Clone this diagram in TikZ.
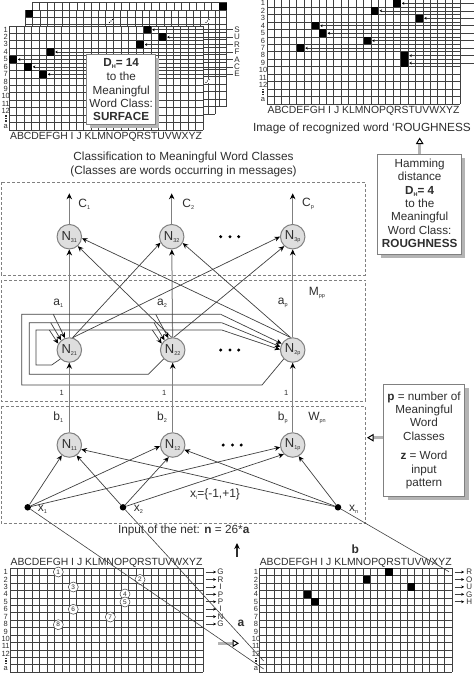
\documentclass[tikz,border=0pt]{standalone}
\usepackage{fontspec}
\setmainfont{Liberation Sans}
\usetikzlibrary{arrows.meta}
\definecolor{inkgray}{HTML}{2E2E2E}
\definecolor{linegray}{HTML}{404040}
\definecolor{stemgray}{HTML}{808080}
\definecolor{nodegray}{HTML}{DEDEDE}
\definecolor{shadegray}{HTML}{B4B4B4}
\newcommand{\lowix}[1]{\raisebox{-2pt}{\fontsize{5.5}{6}\selectfont #1}}
\newcommand{\wordletters}{ABCDEFGH I J KLMNOPQRSTUVWXYZ}
% grid of 26 columns and 14 rows: #1 shift, #2 cell width, #3 cell height
\newcommand{\wordgrid}[3]{
  \begin{scope}[shift={#1}, x=#2pt, y=-#3pt]
    \fill[white] (0,0) rectangle (26,14);
    \foreach \i in {0,...,26}
      \draw[gridline] (\i,0) -- (\i,14);
    \foreach \i in {0,...,14}
      \draw[gridline] (0,\i) -- (26,\i);
  \end{scope}
}
% row numbers left of a grid: #1 x, #2 y of first row
\newcommand{\rownumbers}[2]{
  \foreach \i in {1,...,12}
    \node[rowtext] at (#1, {#2+(\i-1)*7.43}) {\i};
  \fill[inkgray] (#1-0.9, #2+85.5) rectangle (#1+0.9, #2+87);
  \fill[inkgray] (#1-0.9, #2+88) rectangle (#1+0.9, #2+89.5);
  \fill[inkgray] (#1-0.9, #2+90.5) rectangle (#1+0.9, #2+92);
  \node[rowtext] at (#1, #2+96.6) {a};
}
\tikzset{
  gridline/.style={draw=linegray, line width=0.85pt},
  rowtext/.style={font=\fontsize{7.5}{7.5}\selectfont, text=inkgray, inner sep=0pt},
  sideletter/.style={font=\fontsize{8}{8}\selectfont, text=inkgray, inner sep=0pt},
  lettertext/.style={font=\fontsize{10.4}{11}\selectfont, text=inkgray, inner sep=0pt},
  boxtext/.style={font=\fontsize{11.7}{13.4}\selectfont, text=inkgray, align=center, inner sep=0pt},
  labeltext/.style={font=\fontsize{12}{12}\selectfont, text=inkgray, inner sep=0pt},
  linetext/.style={font=\fontsize{11.8}{14}\selectfont, text=inkgray, align=center, inner sep=0pt},
  neuron/.style={circle, draw=stemgray, fill=nodegray, line width=1pt, minimum size=24.5pt, inner sep=0pt,
    font=\fontsize{13}{13}\selectfont, text=inkgray},
  input/.style={circle, fill=black, minimum size=6.5pt, inner sep=0pt},
  wire/.style={draw=linegray, line width=0.7pt, -{Stealth[length=5.5pt,width=5pt,color=black]}},
  stem/.style={draw=stemgray, line width=1pt, -{Stealth[length=6pt,width=5.5pt,color=black]}},
  loopline/.style={draw=linegray, line width=0.7pt},
  rowarrow/.style={draw=linegray, line width=0.6pt, {Stealth[length=2.5pt,width=2.8pt,color=black]}-},
  outarrow/.style={draw=linegray, line width=0.6pt, -{Stealth[length=3pt,width=2.8pt,color=black]}},
  dashframe/.style={draw=stemgray, densely dashed, line width=0.8pt},
  hollow/.style={draw=shadegray, line width=2.6pt, -{Triangle[open, length=6.5pt, width=7.5pt, color=black, fill=white, line width=1pt]}},
  numdot/.style={circle, draw=linegray, fill=white, line width=0.5pt, minimum size=10pt, inner sep=0pt,
    font=\fontsize{6.5}{6.5}\selectfont, text=inkgray},
  smalldot/.style={circle, fill=black, minimum size=3.4pt, inner sep=0pt},
}
\begin{document}
\begin{tikzpicture}[x=1pt, y=-1pt]
\useasboundingbox (0,0) rectangle (474,673);

% Stacked word images, top left
\wordgrid{(32,2.5)}{7.49}{7.43}
\fill[black] (219.2,2.5) rectangle +(7.5,7.4);
\wordgrid{(25.5,10)}{7.3}{7.43}
\fill[black] (25.5,10) rectangle +(7.4,7.4);
\foreach \p in {(111,21),(207.5,21),(207.5,81)}
  \fill[white] \p circle (2.4pt);
\foreach \p in {(109.5,22.5),(111,21),(112.5,19.5),(206,22.5),(207.5,21),(209,19.5),(206,82.5),(207.5,81),(209,79.5)}
  \fill[black] \p circle (0.65pt);
\wordgrid{(9.3,26)}{7.46}{7.43}
\begin{scope}[shift={(9.3,26)}, x=7.46pt, y=-7.43pt]
  \foreach \c/\r in {18/0,20/1,17/2,5/3,0/4,2/5,4/6} {
    \fill[black] (\c,\r) rectangle +(1,1);
    \draw[rowarrow] (\c+1.15,\r+0.5) -- (30,\r+0.5);
  }
\end{scope}
\rownumbers{5.7}{29.5}
\node[lettertext] (lettersSurface) at (106,137) {\wordletters};
\foreach \t [count=\i] in {S,U,R,F,A,C,E}
  \node[sideletter] (surface\i) at (237,{22.1+\i*7.43}) {\t};

% Box of the class SURFACE
\fill[shadegray] (90,58) rectangle (159,128);
\node[draw=stemgray, fill=white, line width=0.8pt, minimum width=69pt, minimum height=70pt, inner sep=0pt] (surfaceBox) at (121.2,89.3) {};
\node[boxtext] (surfaceText) at (121.2,89.6) {\textbf{D\lowix{H}= 14}\\[1pt] to the\\ Meaningful\\ Word Class:\\[0pt] \textbf{SURFACE}};

% Recognized word, top right
\wordgrid{(267,-0.4)}{7.43}{7.47}
\begin{scope}[shift={(267,-0.4)}, x=7.43pt, y=-7.47pt]
  \foreach \c/\r in {17/0,14/1,20/2,6/3,7/4,13/5,4/6,18/7,18/8} {
    \fill[black] (\c,\r) rectangle +(1,1);
    \draw[rowarrow] (\c+1.15,\r+0.5) -- (27.9,\r+0.5);
  }
\end{scope}
\rownumbers{263}{3.3}
\node[lettertext] (lettersRough) at (363.5,111) {\wordletters};
\node[linetext] (imageText) at (362,128) {Image of recognized word ‘ROUGHNESS};

% Box of the class ROUGHNESS
\fill[shadegray] (381,158) rectangle (465,258);
\node[draw=stemgray, fill=white, line width=0.8pt, minimum width=84pt, minimum height=100pt, inner sep=0pt] (roughBox) at (419,204.3) {};
\node[boxtext] (roughText) at (419.7,203.4) {Hamming\\ distance\\ \textbf{D\lowix{H}= 4}\\ to the\\ Meaningful\\ Word Class:\\ \textbf{ROUGHNESS}};
\coordinate (imageFoot) at (419.7,137.5);
\draw[hollow] (roughBox.north -| imageFoot) -- (imageFoot);

% Title of the classes
\node[linetext] (classTitle) at (183.5,164.7) {Classification to Meaningful Word Classes\\ (Classes are words occurring in messages)};

% Layers of the net
\draw[dashframe] (1,182.3) rectangle (365.3,275);
\draw[dashframe] (1,280) rectangle (365.3,401);
\draw[dashframe] (1,406) rectangle (365.3,523.3);

\node[neuron] (N31) at (69.3,236.7) {N\lowix{31}};
\node[neuron] (N32) at (171.7,236.7) {N\lowix{32}};
\node[neuron] (N3p) at (292.7,236.7) {N\lowix{3p}};
\node[neuron] (N21) at (69.3,350) {N\lowix{21}};
\node[neuron] (N22) at (172.7,350) {N\lowix{22}};
\node[neuron] (N2p) at (292.7,350) {N\lowix{2p}};
\node[neuron] (N11) at (69.3,445) {N\lowix{11}};
\node[neuron] (N12) at (172.7,445) {N\lowix{12}};
\node[neuron] (N1p) at (292.7,445) {N\lowix{1p}};
\node[input] (x1) at (27.7,507.3) {};
\node[input] (x2) at (123,507.3) {};
\node[input] (xn) at (338,507.3) {};

% Outputs
\coordinate (C1end) at (69.3,193.3);
\coordinate (C2end) at (171.7,193.3);
\coordinate (Cpend) at (292.7,193.3);
\draw[stem] (N31) -- (C1end);
\draw[stem] (N32) -- (C2end);
\draw[stem] (N3p) -- (Cpend);
\node[labeltext] (C1) at (84.3,204) {C\lowix{1}};
\node[labeltext] (C2) at (188.3,204) {C\lowix{2}};
\node[labeltext] (Cp) at (308,204) {C\lowix{p}};

% Second layer to third layer
\draw[stem] (N21) -- (N31);
\draw[stem] (N22) -- (N32);
\draw[stem] (N2p) -- (N3p);
\draw[wire] (N21.75) -- (N32.208);
\draw[wire] (N21.75) -- (N3p.180);
\draw[wire] (N22.95) -- (N31.312);
\draw[wire] (N22.85) -- (N3p.228);
\draw[wire] (N2p.100) -- (N31.353);
\draw[wire] (N2p.100) -- (N32.330);

% Feedback lines
\coordinate (outerA) at (262,385);
\coordinate (outerB) at (21.7,385);
\coordinate (outerC) at (21.7,314.3);
\coordinate (outerD) at (220.7,314.3);
\coordinate (middleA) at (148.3,374.3);
\coordinate (middleB) at (29.3,374.3);
\coordinate (middleC) at (29.3,322.7);
\coordinate (middleD) at (221.7,322.7);
\coordinate (innerA) at (51.7,365);
\coordinate (innerB) at (36,365);
\coordinate (innerC) at (36,330);
\coordinate (innerD) at (221.7,330);
\draw[loopline] (N2p.225) -- (outerA) -- (outerB) -- (outerC) -- (outerD);
\draw[wire] (outerD) -- (N2p.150);
\draw[loopline] (N22.225) -- (middleA) -- (middleB) -- (middleC) -- (middleD);
\draw[wire] (middleD) -- (N2p.165);
\draw[loopline] (N21.225) -- (innerA) -- (innerB) -- (innerC) -- (innerD);
\draw[wire] (innerD) -- (N2p.178);
\coordinate (tapA1) at (53.3,314.3);
\coordinate (tapA2) at (50.7,322.7);
\coordinate (tapA3) at (49.3,330);
\coordinate (tapB1) at (155.7,314.3);
\coordinate (tapB2) at (154,322.7);
\coordinate (tapB3) at (152.3,330);
\draw[wire] (tapA1) -- (N21.110);
\draw[wire] (tapA2) -- (N21.130);
\draw[wire] (tapA3) -- (N21.150);
\draw[wire] (tapB1) -- (N22.110);
\draw[wire] (tapB2) -- (N22.130);
\draw[wire] (tapB3) -- (N22.150);

% First layer to second layer
\draw[stem] (N11) -- (N21);
\draw[stem] (N12) -- (N22);
\draw[stem] (N1p) -- (N2p);

% Inputs to first layer
\foreach \a/\b in {x1/N11.234,x1/N12.185,x1/N1p.190,x2/N11.305,x2/N12.252,x2/N1p.226,xn/N11.340,xn/N12.338,xn/N1p.298}
  \draw[wire] (\a) -- (\b);

% Labels of the layers
\node[labeltext] (a1) at (58.3,303.3) {a\lowix{1}};
\node[labeltext] (a2) at (162,303.3) {a\lowix{2}};
\node[labeltext] (ap) at (282.7,303.3) {a\lowix{p}};
\node[labeltext] (Mpp) at (317,293.3) {M\lowix{pp}};
\node[rowtext] (one1) at (61.7,392.7) {1};
\node[rowtext] (one2) at (164.3,392.7) {1};
\node[rowtext] (onep) at (286.3,392.7) {1};
\node[labeltext] (b1) at (58.3,417.3) {b\lowix{1}};
\node[labeltext] (b2) at (162,417.3) {b\lowix{2}};
\node[labeltext] (bp) at (282.7,417.3) {b\lowix{p}};
\node[labeltext] (Wpn) at (317,418.3) {W\lowix{pn}};
\node[labeltext] (labelx1) at (42.3,509) {x\lowix{1}};
\node[labeltext] (labelx2) at (138.3,509) {x\lowix{2}};
\node[labeltext] (labelxn) at (353.7,509.3) {x\lowix{n}};
\node[labeltext] (xrange) at (215,494) {x\lowix{i}=\{-1,+1\}};

% Dots between the neurons
\foreach \y/\d in {236.7/0,350/0,445/2.5} {
  \node[smalldot] at (220.7+\d,\y) {};
  \node[smalldot] at (230+\d,\y) {};
  \node[smalldot] at (238.7+\d,\y) {};
}

% Box of the symbols
\fill[shadegray] (388,388) rectangle (469,500);
\node[draw=stemgray, fill=white, line width=0.8pt, minimum width=81pt, minimum height=112pt, inner sep=0pt] (symbolBox) at (424.2,440) {};
\node[boxtext] (symbolText) at (424,416) {\textbf{p} = number of\\ Meaningful\\ Word\\ Classes};
\node[boxtext] (zText) at (424,470) {\textbf{z} = Word\\ input\\ pattern};
\coordinate (frameEdge) at (367,437.7);
\draw[hollow] (symbolBox.west |- frameEdge) -- (frameEdge);

% Input word images, bottom
\node[linetext] (inputText) at (183.7,530.7) {Input of the net: \textbf{n} = 26*\textbf{a}};
\coordinate (riseFoot) at (237,557);
\coordinate (riseTip) at (237,543);
\draw[draw=inkgray, line width=1.2pt, -{Stealth[length=6pt,width=5.5pt,color=black]}] (riseFoot) -- (riseTip);

\wordgrid{(10,568.3)}{7.43}{7.43}
\node[lettertext] (lettersGripping) at (106.5,563.3) {\wordletters};
\rownumbers{5.7}{572}
\foreach \n/\x/\y in {1/58.3/572,2/140/579.5,3/73.3/587,4/125/594,5/125/602,6/73.3/609.3,7/110.3/617,8/58.3/624.7}
  \node[numdot] (mark\n) at (\x,\y) {\n};
\foreach \t [count=\i] in {G,R,I,P,P,I,N,G} {
  \node[sideletter] (gripping\i) at (220.5,{564.6+\i*7.43}) {\t};
  \coordinate (grippingStart\i) at (205.7,{564.6+\i*7.43});
  \draw[outarrow] (grippingStart\i) -- ++(10.5,0);
}

\wordgrid{(259.3,568.3)}{7.41}{7.43}
\begin{scope}[shift={(259.3,568.3)}, x=7.41pt, y=-7.43pt]
  \foreach \c/\r in {17/0,14/1,20/2,6/3,7/4}
    \fill[black] (\c,\r) rectangle +(1,1);
\end{scope}
\node[lettertext] (lettersOut) at (355.7,563.3) {\wordletters};
\rownumbers{256}{572}
\node[labeltext, font=\bfseries\fontsize{12}{12}\selectfont] (labelb) at (355.3,549) {b};
\node[labeltext, font=\bfseries\fontsize{12}{12}\selectfont] (labela) at (241,623.3) {a};
\foreach \t [count=\i] in {R,O,U,G,H} {
  \node[sideletter] (rough\i) at (469.2,{564.6+\i*7.43}) {\t};
  \coordinate (roughStart\i) at (454.7,{564.6+\i*7.43});
  \draw[outarrow] (roughStart\i) -- ++(9.5,0);
}
\coordinate (hollowFoot) at (218,643.3);
\coordinate (hollowTip) at (239,643.3);
\draw[hollow] (hollowFoot) -- (hollowTip);

% Long lines from the inputs into the image
\coordinate (cellA) at (263.7,669);
\coordinate (cellB) at (263.7,661);
\coordinate (cellC) at (449,571.7);
\draw[draw=linegray, line width=0.6pt] (x1) -- (cellA);
\draw[draw=linegray, line width=0.6pt] (x2) -- (cellB);
\draw[draw=linegray, line width=0.6pt] (xn) -- (cellC);
\end{tikzpicture}
\end{document}
